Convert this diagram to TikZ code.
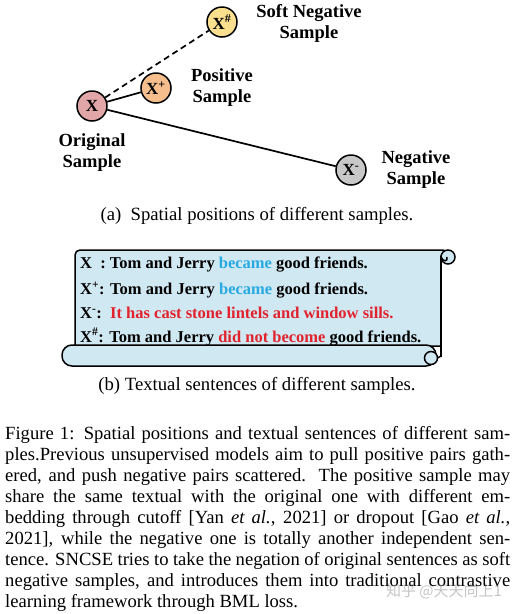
\documentclass[tikz,border=0pt]{standalone}
\usepackage{fontspec}
\setmainfont{Liberation Serif}[BoldFont={Liberation Serif Bold},ItalicFont={Liberation Serif Italic},BoldItalicFont={Liberation Serif Bold Italic}]
\newfontfamily\cjk{Noto Sans CJK SC}
\definecolor{cX}{RGB}{224,166,168}
\definecolor{cP}{RGB}{246,190,140}
\definecolor{cS}{RGB}{250,224,142}
\definecolor{cN}{RGB}{200,200,200}
\definecolor{cScroll}{RGB}{208,232,242}
\definecolor{cBlue}{RGB}{40,170,225}
\definecolor{cRed}{RGB}{226,34,44}
\begin{document}
\begin{tikzpicture}[x=1pt,y=-1pt,
  samp/.style={circle,draw,line width=1.5pt,minimum size=30pt,inner sep=0pt,font=\fontsize{17}{17}\selectfont\bfseries},
  lab/.style={font=\fontsize{18.5}{21}\selectfont\bfseries,align=center},
  link/.style={line width=1.7pt},
  subcap/.style={font=\fontsize{18.7}{18.7}\selectfont},
  sent/.style={anchor=west,inner sep=0pt,font=\fontsize{16.5}{16.5}\selectfont\bfseries},
  capline/.style={anchor=west,inner sep=0pt,font=\fontsize{18.6}{20.8}\selectfont},
  scrollline/.style={line width=1.5pt}]
\useasboundingbox[fill=white] (0,0) rectangle (517,614);
% top diagram
\node[samp,fill=cX] (x) at (92,106) {X};
\node[samp,fill=cP] (xp) at (156,88) {X\textsuperscript{+}};
\node[samp,fill=cS] (xs) at (222,22) {X\textsuperscript{\#}};
\node[samp,fill=cN] (xn) at (351,170) {X\textsuperscript{-}};
\draw[link] (x) -- (xp);
\draw[link,dash pattern=on 6pt off 4pt] (x) -- (xs);
\draw[link] (x) -- (xn);
\node[lab] (lsn) at (309,23) {Soft Negative\\Sample};
\node[lab] (lp) at (222,88) {Positive\\Sample};
\node[lab] (lo) at (92,153) {Original\\Sample};
\node[lab] (ln) at (416,170) {Negative\\Sample};
\node[subcap] (capa) at (257,216) {(a)\ \ Spatial positions of different samples.};
% scroll
\filldraw[fill=cScroll,scrollline,rounded corners=5pt] (75,346) -- (75,250) -- (448,250) [sharp corners] -- (448,256) -- (441,256) -- (441,346) -- cycle;
\draw[scrollline] (441,256) -- (441,357);
\filldraw[fill=cScroll,scrollline,rounded corners=10pt] (62,345) rectangle (436,366);
\filldraw[fill=cScroll,scrollline] (431,358) circle (6.5pt);
\draw[scrollline] (437.5,358) -- (441,356);
\draw[scrollline] (441,352) -- (441,357);
\filldraw[fill=cScroll,scrollline] (448,257) circle (7pt);
\draw[scrollline] (441,257) .. controls (443,262) and (448,262) .. (447,257);
\node[sent] (s1) at (80,265) {X\ \ : Tom and Jerry \textcolor{cBlue}{became} good friends.};
\node[sent] (s2) at (80,290) {X\textsuperscript{+}: Tom and Jerry \textcolor{cBlue}{became} good friends.};
\node[sent] (s3) at (80,313) {X\textsuperscript{-}:\ \ \textcolor{cRed}{It has cast stone lintels and window sills.}};
\node[sent] (s4) at (80,337) {X\textsuperscript{\#}: Tom and Jerry \textcolor{cRed}{did not become} good friends.};
\node[subcap] (capb) at (257,386) {(b) Textual sentences of different samples.};
% caption
\node[capline] (c1) at (5,435) {\makebox[505pt][s]{Figure 1: Spatial positions and textual sentences of different sam-}};
\node[capline] (c2) at (5,456) {\makebox[505pt][s]{ples.Previous unsupervised models aim to pull positive pairs gath-}};
\node[capline] (c3) at (5,477) {\makebox[505pt][s]{ered, and push negative pairs scattered.\ \ The positive sample may}};
\node[capline] (c4) at (5,498) {\makebox[505pt][s]{share the same textual with the original one with different em-}};
\node[capline] (c5) at (5,519) {\makebox[505pt][s]{bedding through cutoff [Yan \textit{et al.}, 2021] or dropout [Gao \textit{et al.},}};
\node[capline] (c6) at (5,540) {\makebox[505pt][s]{2021], while the negative one is totally another independent sen-}};
\node[capline] (c7) at (5,561) {\makebox[505pt][s]{tence. SNCSE tries to take the negation of original sentences as soft}};
\node[capline] (c8) at (5,582) {\makebox[505pt][s]{negative samples, and introduces them into traditional contrastive}};
\node[capline] (c9) at (5,603) {learning framework through BML loss.};
\node[font=\cjk\fontsize{15}{15}\selectfont,text=gray,opacity=0.45] (wm) at (444,591) {知乎 @天天向上1};
\end{tikzpicture}
\end{document}
